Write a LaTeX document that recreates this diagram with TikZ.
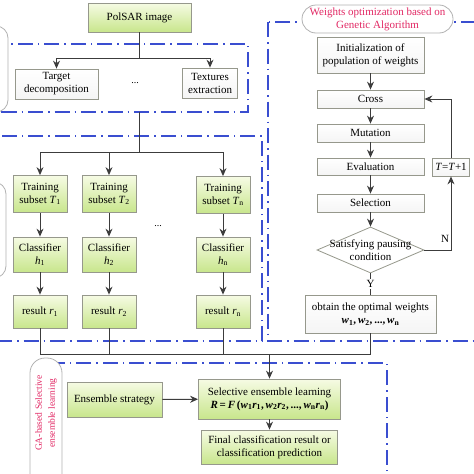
\documentclass[tikz,border=0pt]{standalone}
\usepackage{amsmath}
\usepackage{amssymb}
\usepackage{fontspec}
\setmainfont{Liberation Serif}
\usepackage{tikz}
\usetikzlibrary{shapes.geometric,arrows.meta}
\definecolor{dashblue}{RGB}{58,78,208}
\definecolor{pinkred}{RGB}{226,40,100}
\definecolor{boxgray}{RGB}{150,152,140}
\definecolor{linegray}{RGB}{60,60,60}
\definecolor{greentop}{RGB}{246,251,228}
\definecolor{greenbot}{RGB}{200,230,140}
\newcommand{\isub}[2]{\textit{#1}\textsubscript{#2}}
\newcommand{\bisub}[2]{\textbf{\textit{#1}\textsubscript{#2}}}

\begin{document}
\begin{tikzpicture}[x=1pt,y=-1pt]%[node distance=3cm]
          \tikzstyle{green} = [draw=boxgray, line width=0.8pt, top color=greentop, bottom color=greenbot, align=center, inner sep=0pt, font=\fontsize{11}{13}\selectfont]
          \tikzstyle{plain} = [draw=boxgray, line width=0.8pt, top color=white, bottom color=gray!8, align=center, inner sep=0pt, font=\fontsize{11}{13}\selectfont]
          \tikzstyle{region} = [draw=dashblue, line width=1.5pt, dash pattern=on 15pt off 5pt on 1.5pt off 5pt]
          \tikzstyle{tag} = [draw=gray!60, line width=0.8pt, fill=white, rounded corners=12pt]
          \tikzstyle{link} = [draw=linegray, line width=1pt]
          \tikzstyle{arrow} = [link, -{Stealth[length=8pt,width=7pt]}]
        \useasboundingbox (0,0) rectangle (474,474);
        \draw[region] (-10,44) rectangle (248,112);
        \draw[region] (-10,136) rectangle (262,341);
        \draw[region] (268,22) rectangle (490,341);
        \draw[region] (56,363) rectangle (387,500);
        \draw[tag] (-30,26) rectangle (8,112);
        \draw[tag] (-30,182) rectangle (6,278);
        \draw[tag, rounded corners=15pt] (30,358) rectangle (62,510);
        \node[rotate=90, text=pinkred, align=center, font=\fontsize{9.5}{13}\selectfont] (28) at (46,413) {GA-based Selective\\ensemble learning};
        \node[tag, text=pinkred, align=center, inner sep=0pt, minimum width=151, minimum height=28, rounded corners=14pt, font=\fontsize{11}{13}\selectfont] (24) at (377.5,19) {Weights optimization based on\\Genetic Algorithm};
        % left column
        \node[green, minimum width=103, minimum height=29] (1) at (139.5,17.5) {PolSAR image};
        \node[plain, minimum width=83, minimum height=30] (2) at (56.5,84) {Target\\decomposition};
        \node[plain, minimum width=55, minimum height=30] (3) at (210,83) {Textures\\extraction};
        \node (4) at (135,83) {...};
        \node[green, minimum width=54, minimum height=37] (5) at (40,194) {Training\\subset \isub{T}{1}};
        \node[green, minimum width=54, minimum height=37] (6) at (109,194) {Training\\subset \isub{T}{2}};
        \node[green, minimum width=54, minimum height=37] (7) at (223,195) {Training\\subset \isub{T}{n}};
        \node[green, minimum width=54, minimum height=35] (8) at (40,254.5) {Classifier\\\isub{h}{1}};
        \node[green, minimum width=54, minimum height=35] (9) at (109,254.5) {Classifier\\\isub{h}{2}};
        \node[green, minimum width=54, minimum height=35] (10) at (223,254.5) {Classifier\\\isub{h}{n}};
        \node[green, minimum width=54, minimum height=33] (11) at (40,311.5) {result \isub{r}{1}};
        \node[green, minimum width=54, minimum height=33] (12) at (109,311.5) {result \isub{r}{2}};
        \node[green, minimum width=54, minimum height=33] (13) at (223,311.5) {result \isub{r}{n}};
        \node (14) at (158,226) {...};
        % genetic algorithm
        \node[plain, minimum width=107, minimum height=36] (15) at (370.5,55) {Initialization of\\population of weights};
        \node[plain, minimum width=107, minimum height=18] (16) at (370.5,99) {Cross};
        \node[plain, minimum width=107, minimum height=18] (17) at (370.5,133) {Mutation};
        \node[plain, minimum width=107, minimum height=17] (18) at (370.5,166.5) {Evaluation};
        \node[plain, minimum width=107, minimum height=18] (19) at (370.5,203) {Selection};
        \node[diamond, draw=boxgray, line width=0.8pt, fill=white, inner sep=0pt, minimum width=107, minimum height=46] (20) at (370.5,250) {};
        \node[align=center, font=\fontsize{11}{13}\selectfont] (21) at (370.5,250) {Satisfying pausing\\condition};
        \node[plain, minimum width=131, minimum height=38] (22) at (370.5,314) {obtain the optimal weights\\\bisub{w}{1}\textbf{,}\,\bisub{w}{2}\textbf{,}\,\textbf{...,}\,\bisub{w}{n}};
        \node[plain, minimum width=37, minimum height=18] (23) at (451,167) {\textit{T}=\textit{T}+1};
        \node[font=\fontsize{11}{13}\selectfont] (29) at (445,239) {N};
        % ensemble
        \node[green, minimum width=95, minimum height=35] (25) at (114.5,399.5) {Ensemble strategy};
        \node[green, minimum width=142, minimum height=40] (26) at (269.5,399) {Selective ensemble learning\\\textbf{\textit{R}\,=\,\textit{F}\,(}\bisub{w}{1}\bisub{r}{1}\textbf{,}\,\bisub{w}{2}\bisub{r}{2}\textbf{,}\,\textbf{...,}\,\bisub{w}{n}\bisub{r}{n}\textbf{)}};
        \node[green, minimum width=136, minimum height=34] (27) at (269.5,447) {Final classification result or\\classification prediction};
        \coordinate (a) at (139.5,58);
        \coordinate (b) at (139.5,112);
        \coordinate (c) at (139.5,152);
        \coordinate (d) at (269.5,354);
        \begin{scope}
          \draw[link] (1) -- (a);
          \draw[arrow] (a) -| (2.north);
          \draw[arrow] (a) -| (3.north);
          \draw[link] (b) -- (c);
          \draw[arrow] (c) -| (5.north);
          \draw[arrow] (c) -| (6.north);
          \draw[arrow] (c) -| (7.north);
          \draw[arrow] (5) -- (8);
          \draw[arrow] (6) -- (9);
          \draw[arrow] (7) -- (10);
          \draw[arrow] (8) -- (11);
          \draw[arrow] (9) -- (12);
          \draw[arrow] (10) -- (13);
          \draw[link] (11.south) |- (d);
          \draw[link] (12.south) -- (12.south |- d);
          \draw[link] (13.south) -- (13.south |- d);
          \draw[link] (22.south) |- (d);
          \draw[arrow] (d) -- (26.north);
          \draw[arrow] (25) -- (26);
          \draw[arrow] (26) -- (27);
          \draw[arrow] (15) -- (16);
          \draw[arrow] (16) -- (17);
          \draw[arrow] (17) -- (18);
          \draw[arrow] (18) -- (19);
          \draw[arrow] (19) -- (20);
          \draw[link, line width=0.6pt] (20.south) -- node[fill=white, inner sep=1pt, font=\fontsize{11}{13}\selectfont] {Y} (22.north);
          \draw[arrow] (20.east) -| (23.south);
          \draw[arrow] (23.north) |- (16.east);
        \end{scope}
      \end{tikzpicture}
\end{document}
